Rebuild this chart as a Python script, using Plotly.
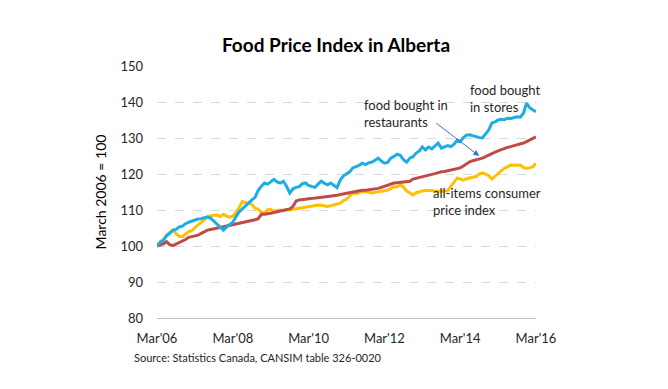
import pandas as pd
import plotly.graph_objects as go

months = pd.date_range("2006-03-01", periods=121, freq="MS")

tick_dates = ["2006-03-01", "2008-03-01", "2010-03-01", "2012-03-01", "2014-03-01", "2016-03-01"]
tick_labels = ["Mar'06", "Mar'08", "Mar'10", "Mar'12", "Mar'14", "Mar'16"]
y_ticks = [80, 90, 100, 110, 120, 130, 140, 150]

food_stores = [
    100.0, 101.0, 101.6, 102.8, 103.5, 104.4, 104.6, 105.3, 105.5, 106.2,
    106.6, 106.9, 107.3, 107.5, 107.6, 107.9, 108.1, 107.7, 106.8, 106.0,
    105.2, 104.4, 105.3, 106.0, 106.6, 108.2, 109.5, 110.3, 111.2, 112.0,
    112.8, 113.5, 115.5, 116.6, 117.5, 117.2, 117.9, 118.5, 117.8, 117.5,
    118.0, 116.6, 114.7, 115.9, 116.3, 116.5, 117.3, 117.5, 116.8, 116.5,
    116.3, 117.2, 118.0, 117.4, 117.0, 117.5, 116.9, 116.2, 118.4, 119.5,
    120.0, 120.6, 121.7, 122.0, 122.4, 123.0, 122.6, 123.1, 123.3, 123.8,
    124.4, 123.6, 123.0, 123.2, 124.4, 124.9, 125.5, 125.2, 124.0, 123.3,
    124.4, 124.8, 125.8, 126.4, 127.5, 126.7, 127.5, 127.0, 127.9, 128.6,
    127.2, 127.6, 127.9, 127.6, 128.3, 129.4, 129.0, 130.1, 130.8, 130.9,
    130.6, 130.4, 130.1, 130.0, 131.2, 132.2, 134.2, 134.5, 135.0, 135.2,
    135.1, 135.5, 135.4, 135.6, 135.9, 135.8, 136.9, 139.7, 138.4, 137.8,
    137.3,
]

food_restaurants = [
    100.0, 100.2, 100.6, 101.2, 100.4, 100.1, 100.5, 100.9, 101.2, 101.8,
    102.4, 102.6, 102.9, 103.0, 103.5, 104.0, 104.4, 104.6, 104.8, 105.0,
    105.2, 105.4, 105.5, 105.7, 105.8, 106.0, 106.3, 106.5, 106.6, 106.8,
    107.0, 107.3, 107.6, 108.8, 108.8, 108.9, 109.1, 109.3, 109.5, 109.6,
    109.8, 110.0, 110.3, 111.0, 112.5, 112.8, 112.8, 113.0, 113.1, 113.3,
    113.3, 113.4, 113.5, 113.5, 113.6, 113.7, 113.9, 114.1, 114.3, 114.5,
    114.7, 114.9, 115.0, 115.2, 115.3, 115.5, 115.5, 115.6, 115.8, 115.9,
    116.0, 116.3, 116.6, 116.9, 117.2, 117.5, 117.6, 117.7, 117.8, 117.9,
    118.0, 118.6, 118.8, 119.0, 119.2, 119.3, 119.6, 119.9, 120.1, 120.4,
    120.6, 120.7, 120.9, 121.1, 121.3, 121.5, 121.7, 122.2, 122.8, 123.4,
    123.7, 123.9, 124.1, 124.4, 124.8, 125.3, 125.7, 126.1, 126.4, 126.8,
    127.1, 127.4, 127.6, 127.8, 128.1, 128.3, 128.6, 129.0, 129.5, 130.0,
    130.3,
]

all_items_cpi = [
    100.0, 101.2, 101.7, 103.0, 103.8, 104.4, 103.4, 102.7, 102.6, 103.4,
    104.0, 104.3, 105.2, 105.9, 106.6, 107.3, 108.0, 108.4, 108.6, 108.6,
    108.2, 108.8, 108.3, 108.0, 108.3, 109.3, 110.7, 112.4, 112.0, 111.9,
    111.5, 110.5, 110.2, 109.4, 109.2, 110.1, 110.2, 109.6, 109.9, 110.0,
    109.8, 110.1, 110.0, 110.2, 110.4, 110.5, 110.6, 110.8, 111.0, 111.1,
    111.3, 111.4, 111.3, 111.1, 111.0, 111.2, 111.5, 111.7, 111.9, 112.6,
    113.0, 113.9, 114.7, 114.5, 114.8, 115.1, 115.1, 114.9, 114.7, 114.9,
    115.0, 115.2, 115.3, 115.5, 116.0, 116.5, 116.4, 117.0, 116.4, 115.3,
    114.7, 114.2, 114.8, 115.1, 115.3, 115.4, 115.5, 115.4, 115.2, 115.2,
    115.1, 115.2, 115.4, 116.6, 117.8, 118.9, 118.6, 118.3, 118.7, 118.9,
    119.0, 119.3, 120.0, 120.3, 120.0, 119.5, 118.6, 119.4, 120.2, 120.8,
    121.6, 122.0, 122.5, 122.4, 122.5, 122.5, 121.8, 121.6, 121.7, 122.0,
    123.0,
]

FONT = "Lato"
TXT = "#262626"

fig = go.Figure()
fig.add_trace(go.Scatter(x=months, y=all_items_cpi, mode="lines",
                         line=dict(color="#FFC000", width=3), name="all-items consumer price index"))
fig.add_trace(go.Scatter(x=months, y=food_restaurants, mode="lines",
                         line=dict(color="#BE4B48", width=3), name="food bought in restaurants"))
fig.add_trace(go.Scatter(x=months, y=food_stores, mode="lines",
                         line=dict(color="#1CADE4", width=3), name="food bought in stores"))

fig.update_layout(
    width=660, height=381,
    margin=dict(l=149, r=132, t=58, b=71),
    paper_bgcolor="white", plot_bgcolor="white",
    showlegend=False,
    font=dict(family=FONT, size=13, color=TXT),
    title=dict(text="<b>Food Price Index in Alberta</b>", x=0.497, xanchor="center",
               y=0.903, yanchor="middle", font=dict(family=FONT, size=19, color="#000000")),
)
fig.update_xaxes(
    range=[months[0], months[-1]],
    tickvals=pd.to_datetime(tick_dates), ticktext=tick_labels,
    showgrid=False, showline=True, linecolor="#BFBFBF", linewidth=1,
    ticks="", tickfont=dict(family=FONT, size=13, color=TXT), ticklabelstandoff=8,
    zeroline=False,
)
fig.update_yaxes(
    range=[80, 150], tickvals=y_ticks,
    showgrid=True, gridcolor="#D9D9D9", griddash="dash", gridwidth=1,
    showline=False, zeroline=False, ticks="",
    tickfont=dict(family=FONT, size=13, color=TXT), ticklabelstandoff=13,
    title=dict(text="March 2006 = 100", font=dict(family=FONT, size=14, color="#000000"), standoff=10),
)

ann_font = dict(family=FONT, size=13, color=TXT)
fig.add_annotation(x=pd.Timestamp("2014-05-15"), y=141.0, xref="x", yref="y",
                   text="food bought<br>in stores", showarrow=False,
                   xanchor="left", yanchor="middle", align="left", font=ann_font)
fig.add_annotation(x=pd.Timestamp("2011-08-01"), y=136.7, xref="x", yref="y",
                   text="food bought in<br>restaurants", showarrow=False,
                   xanchor="left", yanchor="middle", align="left", font=ann_font)
fig.add_annotation(x=pd.Timestamp("2014-09-01"), y=125.0, ax=pd.Timestamp("2013-07-01"), ay=134.4,
                   xref="x", yref="y", axref="x", ayref="y",
                   text="", showarrow=True, arrowhead=2, arrowsize=1.2, arrowwidth=1,
                   arrowcolor="#4472C4")
fig.add_annotation(x=pd.Timestamp("2013-05-20"), y=112.4, xref="x", yref="y",
                   text="all-items consumer<br>price index", showarrow=False,
                   xanchor="left", yanchor="middle", align="left", font=ann_font)
fig.add_annotation(x=-0.066, y=-0.155, xref="paper", yref="paper",
                   text="Source: Statistics Canada, CANSIM table 326-0020", showarrow=False,
                   xanchor="left", yanchor="middle",
                   font=dict(family=FONT, size=11, color=TXT))

fig.write_html("out.html")
